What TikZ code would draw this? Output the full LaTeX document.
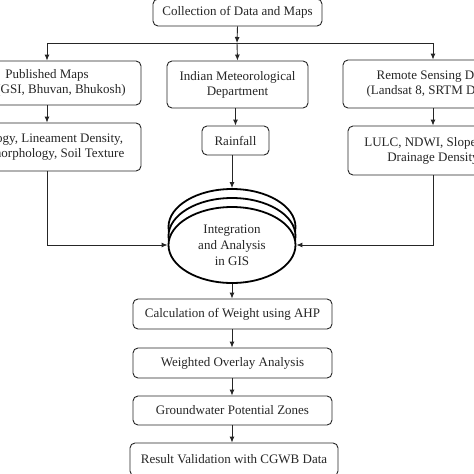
\documentclass[tikz,border=0pt]{standalone}
\usepackage{fontspec}
\setmainfont{Liberation Serif}
\usetikzlibrary{shapes.geometric,arrows.meta}
\begin{document}
\begin{tikzpicture}[x=1pt,y=-1pt,
  box/.style={draw=black!85,line width=0.9pt,rounded corners=5pt,align=center,inner sep=0pt,
    font=\fontsize{13}{15}\selectfont,text=black!85},
  arr/.style={draw=black!85,line width=0.9pt,-{Latex[length=6pt,width=5pt]}},
  ell/.style={ellipse,draw=black,line width=1.8pt,fill=white,minimum width=127pt,minimum height=76pt,inner sep=0pt},
  ]
\useasboundingbox (0,0) rectangle (474,474);
\fill[white] (0,0) rectangle (474,474);
\node[box,minimum width=169pt,minimum height=27pt] (top) at (237.5,12.5) {Collection of Data and Maps};
\coordinate (hub) at (237,43);
\coordinate (hl) at (47,43);
\coordinate (hr) at (433,43);
\node[box,minimum width=188pt,minimum height=44pt] (pub) at (47,83) {Published Maps\\(GSI, Bhuvan, Bhukosh)\hspace*{-28pt}};
\node[box,minimum width=141pt,minimum height=47pt] (imd) at (237.5,84.5) {Indian Meteorological\\Department};
\node[box,minimum width=180pt,minimum height=48pt] (rs) at (433,84) {Remote Sensing Data\\(Landsat 8, SRTM DEM)};
\node[box,minimum width=188pt,minimum height=48pt] (geo) at (47,147) {Geology, Lineament Density,\\Geomorphology, Soil Texture};
\node[box,minimum width=67pt,minimum height=29pt] (rain) at (235.5,140.5) {Rainfall};
\node[box,minimum width=170pt,minimum height=49pt] (lulc) at (433,150.5) {LULC, NDWI, Slope,\hspace*{22pt}\\Drainage Density};
\node[ell] (gisb) at (232,227) {};
\node[ell] (gism) at (232,236) {};
\node[ell,align=center,font=\fontsize{13}{16}\selectfont,text=black!85] (gis) at (232,245) {Integration\\and Analysis\\in GIS};
\node[box,minimum width=199pt,minimum height=30pt] (ahp) at (232.5,314) {Calculation of Weight using AHP};
\node[box,minimum width=199pt,minimum height=30pt] (wo) at (232.5,363) {Weighted Overlay Analysis};
\node[box,minimum width=199pt,minimum height=29pt] (gpz) at (232.5,410.5) {Groundwater Potential Zones};
\node[box,minimum width=208pt,minimum height=33pt] (val) at (234,459.5) {Result Validation with CGWB Data};
\draw[arr] (top.south) -- (hub);
\draw[draw=black!85,line width=0.9pt] (hl) -- (hr);
\draw[arr] (hl) -- (pub.north);
\draw[arr] (hub) -- (imd.north);
\draw[arr] (hr) -- (rs.north);
\draw[arr] (pub) -- (geo);
\draw[arr] (imd.south -| rain) -- (rain.north);
\draw[arr] (rs) -- (lulc);
\draw[arr] (rain.south -| gisb.north) -- (gisb.north);
\draw[arr] (geo.south) |- (gis.west);
\draw[arr] (lulc.south) |- (gis.east);
\draw[arr] (gis.south) -- (ahp.north -| gis.south);
\draw[arr] (ahp.south -| gis.south) -- (wo.north -| gis.south);
\draw[arr] (wo.south -| gis.south) -- (gpz.north -| gis.south);
\draw[arr] (gpz.south -| gis.south) -- (val.north -| gis.south);
\end{tikzpicture}
\end{document}
